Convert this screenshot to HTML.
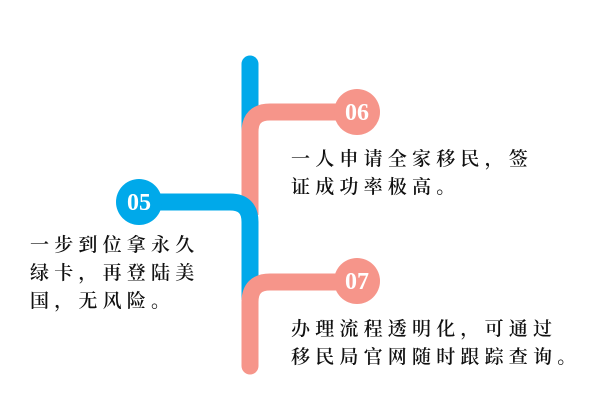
<!DOCTYPE html>
<html><head><meta charset="utf-8"><style>
body{margin:0;width:600px;height:400px;background:#fff;overflow:hidden;position:relative}
.t{position:absolute;font-family:"Liberation Serif","Noto Serif CJK SC",serif;font-size:19px;line-height:28px;color:#111;letter-spacing:5.2px;white-space:nowrap;font-weight:600}
</style></head><body>
<svg width="600" height="400" style="position:absolute;left:0;top:0">
<g fill="none" stroke-width="17" stroke-linecap="round">
<path d="M250,64 L250,140" stroke="#00a9ea"/>
<path d="M250,215 L250,132 Q250,112 270,112 L350,112" stroke="#f6958a" stroke-linecap="butt"/>
<path d="M140,202 L230,202 Q250,202 250,222 L250,300" stroke="#00a9ea" stroke-linecap="butt"/>
<path d="M250,366 L250,302 Q250,282 270,282 L350,282" stroke="#f6958a"/>
</g>
<circle cx="357" cy="112" r="23" fill="#f6958a"/>
<circle cx="139" cy="202" r="23" fill="#00a9ea"/>
<circle cx="357" cy="281" r="23" fill="#f6958a"/>
<g font-family="Liberation Serif,serif" font-weight="bold" font-size="24" fill="#fff" text-anchor="middle">
<text x="357" y="120">06</text><text x="139" y="210">05</text><text x="357" y="289">07</text>
</g>
</svg>
<div class="t" style="left:291px;top:146px">一人申请全家移民，签<br>证成功率极高。</div>
<div class="t" style="left:30px;top:232px">一步到位拿永久<br>绿卡，再登陆美<br>国，无风险。</div>
<div class="t" style="left:291px;top:316px">办理流程透明化，可通过<br>移民局官网随时跟踪查询。</div>
</body></html>
